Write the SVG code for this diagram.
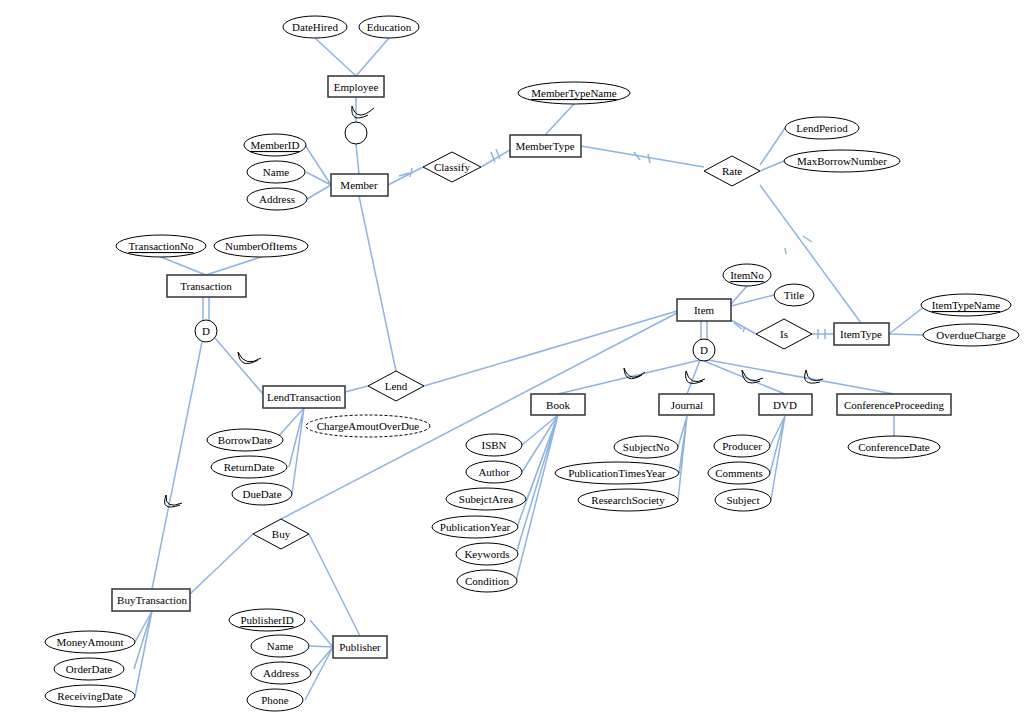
<svg xmlns="http://www.w3.org/2000/svg" width="1034" height="719" viewBox="0 0 1034 719">
<style>
text{font-family:"Liberation Serif",serif;font-size:11px;text-anchor:middle;dominant-baseline:central;fill:#000}
.e{fill:#fff;stroke:#000;stroke-width:1}
.b{fill:#fff;stroke:#333;stroke-width:1.5}
.d{fill:#fff;stroke:#000;stroke-width:1}
.l{stroke:#8fb4e0;stroke-width:1.5;fill:none}
.c{fill:none;stroke:#000;stroke-width:1}
.u{text-decoration:underline}
</style>
<rect width="1034" height="719" fill="#fff"/>
<g id="connectors">
<path class="l" d="M315,38L356,76M389,38L356,76M356,97V122M356,144L359,174M305,145L331,185M306,172L331,185M307,199L331,185"/>
<path class="l" d="M388,185L423,167M481,167L510,150M574,104L545,135M581,146L704,167M760,185L861,323M760,165L785,128M760,171L784,161"/>
<path class="l" d="M359,196L396,371M345,392L368,386M424,386L677,311M677,313L281,519M253,534L190,594M309,534L360,636"/>
<path class="l" d="M747,286L731,304M774,295L731,306M731,320L756,334M812,334L834,334M889,334L925,306M889,334L923,335"/>
<path class="l" d="M701,321V339M707,321V339M700,360L558,394M700,360L687,394M704,361L785,394M708,360L894,394M894,416V436"/>
<path class="l" d="M161,257L206,275M261,257L206,275M203,297V320M209,297V320M215,338L263,394M202,342L152,589"/>
<path class="l" d="M304,408L275,440M304,408L289,467M304,408L292,494M558,415L522,445M558,415L522,472M558,415L527,499M558,415L517,527M558,415L516,554M558,415L516,581"/>
<path class="l" d="M687,416L678,447M687,416L679,473M687,416L678,500M785,416L770,446M785,416L770,473M785,416L771,500"/>
<path class="l" d="M152,611L135,642M152,611L134,669M152,611L135,696M310,620L333,647M310,646L333,647M311,673L333,647M305,700L333,647"/>
<path class="l" d="M399,176L409,173M412,168L410,177M491,152L495,162M496,149L500,159M634,152L640,160M648,154L650,163M785,248L786,254M803,236L812,242M745,327L743,332M818,329V339M825,329V339M734,323L742,329"/>
<path class="c" d="M352,106Q350,124 368,115M352,106Q357,123 374,108"/>
<path class="c" d="M238,352Q240,370 258,360M238,352Q245,368 261,358"/>
<path class="c" d="M166,495Q160,512 180,505M166,495Q165,510 182,503"/>
<path class="c" d="M624,368Q625,385 642,375M624,368Q630,384 645,372"/>
<path class="c" d="M686,371Q683,389 703,381M686,371Q690,387 705,379"/>
<path class="c" d="M742,370Q743,388 760,381M742,370Q748,386 763,378"/>
<path class="c" d="M806,370Q800,387 820,382M806,370Q808,385 823,379"/>
</g>
<g id="Employee"><rect class="b" x="328" y="76" width="56" height="21"/><text x="356" y="86.5">Employee</text></g>
<g id="DateHired"><ellipse class="e" cx="315" cy="27" rx="32" ry="11"/><text x="315" y="27">DateHired</text></g>
<g id="Education"><ellipse class="e" cx="389" cy="27" rx="30" ry="11"/><text x="389" y="27">Education</text></g>
<g id="subset"><circle class="e" cx="356" cy="133" r="11"/></g>
<g id="Member"><rect class="b" x="331" y="174" width="57" height="22"/><text x="359" y="185">Member</text></g>
<g id="MemberID"><ellipse class="e" cx="275" cy="145" rx="31" ry="11"/><text class="u" x="275" y="145">MemberID</text></g>
<g id="Name"><ellipse class="e" cx="276" cy="172" rx="29" ry="11"/><text x="276" y="172">Name</text></g>
<g id="Address"><ellipse class="e" cx="277" cy="199" rx="30" ry="11"/><text x="277" y="199">Address</text></g>
<g id="Classify"><polygon class="d" points="423,167 452,152 481,167 452,182"/><text x="452" y="167">Classify</text></g>
<g id="MemberType"><rect class="b" x="510" y="135" width="71" height="22"/><text x="545" y="146">MemberType</text></g>
<g id="MemberTypeName"><ellipse class="e" cx="574" cy="93" rx="56" ry="11"/><text class="u" x="574" y="93">MemberTypeName</text></g>
<g id="Rate"><polygon class="d" points="704,171 732,156 760,171 732,186"/><text x="732" y="171">Rate</text></g>
<g id="LendPeriod"><ellipse class="e" cx="822" cy="128" rx="37" ry="11"/><text x="822" y="128">LendPeriod</text></g>
<g id="MaxBorrowNumber"><ellipse class="e" cx="842" cy="161" rx="58" ry="11"/><text x="842" y="161">MaxBorrowNumber</text></g>
<g id="ItemType"><rect class="b" x="834" y="323" width="55" height="22"/><text x="861" y="334">ItemType</text></g>
<g id="ItemTypeName"><ellipse class="e" cx="966" cy="305" rx="45" ry="11"/><text class="u" x="966" y="305">ItemTypeName</text></g>
<g id="OverdueCharge"><ellipse class="e" cx="971" cy="335" rx="48" ry="11"/><text x="971" y="335">OverdueCharge</text></g>
<g id="Item"><rect class="b" x="677" y="299" width="54" height="22"/><text x="704" y="310">Item</text></g>
<g id="ItemNo"><ellipse class="e" cx="747" cy="275" rx="24" ry="11"/><text class="u" x="747" y="275">ItemNo</text></g>
<g id="Title"><ellipse class="e" cx="794" cy="295" rx="20" ry="11"/><text x="794" y="295">Title</text></g>
<g id="Is"><polygon class="d" points="756,334 784,319 812,334 784,349"/><text x="784" y="334">Is</text></g>
<g id="ItemD"><circle class="e" cx="704" cy="350" r="11"/><text x="704" y="350">D</text></g>
<g id="Book"><rect class="b" x="531" y="394" width="54" height="21"/><text x="558" y="404.5">Book</text></g>
<g id="Journal"><rect class="b" x="659" y="394" width="55" height="21"/><text x="687" y="404.5">Journal</text></g>
<g id="DVD"><rect class="b" x="759" y="394" width="53" height="21"/><text x="785" y="404.5">DVD</text></g>
<g id="ConferenceProceeding"><rect class="b" x="837" y="394" width="114" height="21"/><text x="894" y="404.5">ConferenceProceeding</text></g>
<g id="ConferenceDate"><ellipse class="e" cx="894" cy="447" rx="46" ry="11"/><text x="894" y="447">ConferenceDate</text></g>
<g id="ISBN"><ellipse class="e" cx="494" cy="445" rx="28" ry="11"/><text x="494" y="445">ISBN</text></g>
<g id="Author"><ellipse class="e" cx="494" cy="472" rx="28" ry="11"/><text x="494" y="472">Author</text></g>
<g id="SubejctArea"><ellipse class="e" cx="486" cy="499" rx="40" ry="11"/><text x="486" y="499">SubejctArea</text></g>
<g id="PublicationYear"><ellipse class="e" cx="475" cy="527" rx="43" ry="11"/><text x="475" y="527">PublicationYear</text></g>
<g id="Keywords"><ellipse class="e" cx="487" cy="554" rx="31" ry="11"/><text x="487" y="554">Keywords</text></g>
<g id="Condition"><ellipse class="e" cx="487" cy="581" rx="30" ry="11"/><text x="487" y="581">Condition</text></g>
<g id="SubjectNo"><ellipse class="e" cx="646" cy="447" rx="32" ry="11"/><text x="646" y="447">SubjectNo</text></g>
<g id="PublicationTimesYear"><ellipse class="e" cx="617" cy="473" rx="62" ry="11"/><text x="617" y="473">PublicationTimesYear</text></g>
<g id="ResearchSociety"><ellipse class="e" cx="628" cy="500" rx="50" ry="11"/><text x="628" y="500">ResearchSociety</text></g>
<g id="Producer"><ellipse class="e" cx="742" cy="446" rx="28" ry="11"/><text x="742" y="446">Producer</text></g>
<g id="Comments"><ellipse class="e" cx="739" cy="473" rx="31" ry="11"/><text x="739" y="473">Comments</text></g>
<g id="Subject"><ellipse class="e" cx="743" cy="500" rx="28" ry="11"/><text x="743" y="500">Subject</text></g>
<g id="Transaction"><rect class="b" x="167" y="275" width="79" height="22"/><text x="206" y="286">Transaction</text></g>
<g id="TransactionNo"><ellipse class="e" cx="161" cy="246" rx="45" ry="11"/><text class="u" x="161" y="246">TransactionNo</text></g>
<g id="NumberOfItems"><ellipse class="e" cx="261" cy="246" rx="47" ry="11"/><text x="261" y="246">NumberOfItems</text></g>
<g id="TransD"><circle class="e" cx="206" cy="331" r="11"/><text x="206" y="331">D</text></g>
<g id="LendTransaction"><rect class="b" x="263" y="386" width="82" height="22"/><text x="304" y="397">LendTransaction</text></g>
<g id="Lend"><polygon class="d" points="368,386 396,371 424,386 396,401"/><text x="396" y="386">Lend</text></g>
<g id="ChargeAmoutOverDue"><ellipse class="e" cx="368" cy="426" rx="62" ry="11" stroke-dasharray="3,2"/><text x="368" y="426">ChargeAmoutOverDue</text></g>
<g id="BorrowDate"><ellipse class="e" cx="245" cy="440" rx="38" ry="11"/><text x="245" y="440">BorrowDate</text></g>
<g id="ReturnDate"><ellipse class="e" cx="249" cy="467" rx="38" ry="11"/><text x="249" y="467">ReturnDate</text></g>
<g id="DueDate"><ellipse class="e" cx="262" cy="494" rx="30" ry="11"/><text x="262" y="494">DueDate</text></g>
<g id="BuyTransaction"><rect class="b" x="112" y="589" width="78" height="22"/><text x="152" y="600">BuyTransaction</text></g>
<g id="Buy"><polygon class="d" points="253,534 281,519 309,534 281,549"/><text x="281" y="534">Buy</text></g>
<g id="Publisher"><rect class="b" x="333" y="636" width="54" height="22"/><text x="360" y="647">Publisher</text></g>
<g id="PublisherID"><ellipse class="e" cx="267" cy="620" rx="38" ry="11"/><text class="u" x="267" y="620">PublisherID</text></g>
<g id="PName"><ellipse class="e" cx="280" cy="646" rx="29" ry="11"/><text x="280" y="646">Name</text></g>
<g id="PAddress"><ellipse class="e" cx="281" cy="673" rx="30" ry="11"/><text x="281" y="673">Address</text></g>
<g id="Phone"><ellipse class="e" cx="275" cy="700" rx="28" ry="11"/><text x="275" y="700">Phone</text></g>
<g id="MoneyAmount"><ellipse class="e" cx="90" cy="642" rx="45" ry="11"/><text x="90" y="642">MoneyAmount</text></g>
<g id="OrderDate"><ellipse class="e" cx="89" cy="669" rx="35" ry="11"/><text x="89" y="669">OrderDate</text></g>
<g id="ReceivingDate"><ellipse class="e" cx="90" cy="696" rx="45" ry="11"/><text x="90" y="696">ReceivingDate</text></g>
</svg>
